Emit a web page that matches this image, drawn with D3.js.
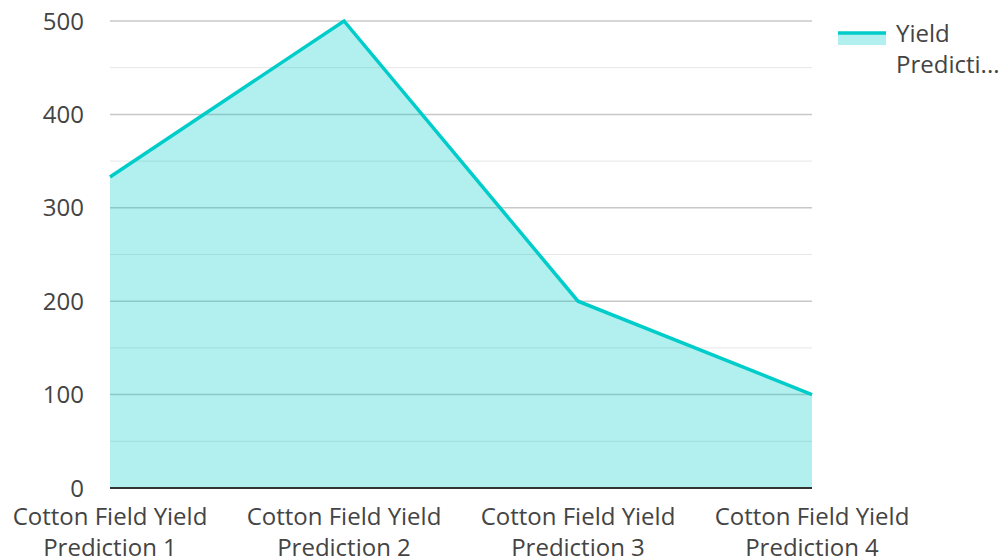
<!DOCTYPE html>
<html>
<head>
<meta charset="utf-8">
<script src="https://cdn.jsdelivr.net/npm/d3@7"></script>
<style>
  html, body { margin: 0; padding: 0; background: #fff; }
  svg { display: block; font-family: "Open Sans", "Noto Sans", sans-serif; }
</style>
</head>
<body>
<svg id="chart" width="1004" height="560"></svg>
<script>
// Yield predictions per cotton field
const categories = [
  "Cotton Field Yield Prediction 1",
  "Cotton Field Yield Prediction 2",
  "Cotton Field Yield Prediction 3",
  "Cotton Field Yield Prediction 4"
];
const yieldValues = [333, 500, 200, 100];
const yTicks = [0, 100, 200, 300, 400, 500];
const minorTicks = [50, 150, 250, 350, 450];
const seriesName = "Yield Prediction";

const lineColor = "#00cdc9";
const textColor = "#444";
const fontSize = 24;

const svg = d3.select("#chart");
const plotLeft = 110, plotRight = 812, plotTop = 21, plotBottom = 488;

const x = d3.scalePoint().domain(categories).range([plotLeft, plotRight]);
const y = d3.scaleLinear().domain([0, 500]).range([plotBottom, plotTop]);

// minor gridlines
svg.append("g").selectAll("line").data(minorTicks).join("line")
  .attr("x1", plotLeft).attr("x2", plotRight)
  .attr("y1", d => y(d)).attr("y2", d => y(d))
  .attr("stroke", "#e6e6e6").attr("stroke-width", 1);

// major gridlines
svg.append("g").selectAll("line").data(yTicks.filter(d => d > 0)).join("line")
  .attr("x1", plotLeft).attr("x2", plotRight)
  .attr("y1", d => y(d)).attr("y2", d => y(d))
  .attr("stroke", "#c8c8c8").attr("stroke-width", 1.5);

// area under the series
const area = d3.area()
  .x((d, i) => x(categories[i]))
  .y0(y(0))
  .y1(d => y(d));
svg.append("path").datum(yieldValues)
  .attr("d", area)
  .attr("fill", lineColor).attr("fill-opacity", 0.3);

// series line
const line = d3.line()
  .x((d, i) => x(categories[i]))
  .y(d => y(d));
svg.append("path").datum(yieldValues)
  .attr("d", line)
  .attr("fill", "none")
  .attr("stroke", lineColor).attr("stroke-width", 3.5)
  .attr("stroke-linejoin", "miter");

// y axis labels
svg.append("g").selectAll("text").data(yTicks).join("text")
  .attr("x", 84).attr("y", d => y(d) + 8.5)
  .attr("text-anchor", "end")
  .attr("font-size", fontSize).attr("fill", textColor)
  .text(d => d);

// baseline
svg.append("line")
  .attr("x1", plotLeft).attr("x2", plotRight)
  .attr("y1", plotBottom).attr("y2", plotBottom)
  .attr("stroke", "#333").attr("stroke-width", 2);

// category labels, wrapped onto two lines
const catG = svg.append("g");
categories.forEach(c => {
  const words = c.split(" ");
  const l1 = words.slice(0, 3).join(" ");
  const l2 = words.slice(3).join(" ");
  const t = catG.append("text")
    .attr("x", x(c)).attr("y", 525)
    .attr("text-anchor", "middle")
    .attr("font-size", fontSize).attr("fill", textColor);
  t.append("tspan").attr("x", x(c)).attr("dy", 0).text(l1);
  t.append("tspan").attr("x", x(c)).attr("dy", 31).text(l2);
});

// legend
const lg = svg.append("g");
lg.append("rect").attr("x", 838).attr("y", 33).attr("width", 48).attr("height", 12)
  .attr("fill", lineColor).attr("fill-opacity", 0.3);
lg.append("line").attr("x1", 838).attr("x2", 886).attr("y1", 33).attr("y2", 33)
  .attr("stroke", lineColor).attr("stroke-width", 3.5);
const lt = lg.append("text").attr("x", 896).attr("y", 42)
  .attr("font-size", fontSize).attr("fill", textColor);
lt.append("tspan").attr("x", 896).attr("dy", 0).text("Yield");
lt.append("tspan").attr("x", 896).attr("dy", 31).text(seriesName.split(" ")[1].slice(0, 8) + "...");
</script>
</body>
</html>
